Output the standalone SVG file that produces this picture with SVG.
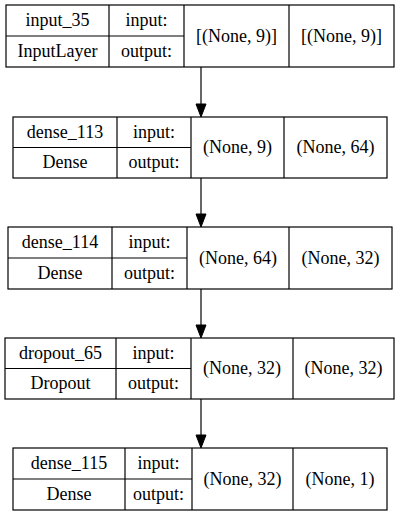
<svg xmlns="http://www.w3.org/2000/svg" width="401" height="516" viewBox="0 0 401 516">
<defs>
<style>
rect.b { fill: #ffffff; stroke: #000000; stroke-width: 1.2; }
line.d { stroke: #000000; stroke-width: 1.2; }
svg g text.t { font-family: 'Liberation Serif', serif !important; font-size: 18px; fill: #000000; text-anchor: middle; }
.edge line { stroke: #000000; stroke-width: 1.2; }
.edge polygon { fill: #000000; stroke: #000000; stroke-width: 1; }
</style>
</defs>
<rect x="0" y="0" width="401" height="516" fill="#ffffff"/>

<g id="connectors" class="edge">
<line x1="201" y1="67" x2="201" y2="104"/>
<polygon points="196,104 206,104 201,117"/>
<line x1="201" y1="178" x2="201" y2="214"/>
<polygon points="196,214 206,214 201,227"/>
<line x1="201" y1="289" x2="201" y2="325"/>
<polygon points="196,325 206,325 201,338"/>
<line x1="201" y1="399" x2="201" y2="435"/>
<polygon points="196,435 206,435 201,448"/>
</g>

<g id="input_35">
<rect class="b" x="6" y="5" width="388" height="62"/>
<line class="d" x1="109" y1="5" x2="109" y2="67"/>
<line class="d" x1="184" y1="5" x2="184" y2="67"/>
<line class="d" x1="289" y1="5" x2="289" y2="67"/>
<line class="d" x1="6" y1="36" x2="184" y2="36"/>
<text class="t" style="font-family:'Liberation Serif',serif !important" x="57.5" y="26">input_35</text>
<text class="t" style="font-family:'Liberation Serif',serif !important" x="57.5" y="57">InputLayer</text>
<text class="t" style="font-family:'Liberation Serif',serif !important" x="146.5" y="26">input:</text>
<text class="t" style="font-family:'Liberation Serif',serif !important" x="146.5" y="57">output:</text>
<text class="t" style="font-family:'Liberation Serif',serif !important" x="236.5" y="42">[(None, 9)]</text>
<text class="t" style="font-family:'Liberation Serif',serif !important" x="341.5" y="42">[(None, 9)]</text>
</g>

<g id="dense_113">
<rect class="b" x="13" y="117" width="374" height="61"/>
<line class="d" x1="117" y1="117" x2="117" y2="178"/>
<line class="d" x1="191" y1="117" x2="191" y2="178"/>
<line class="d" x1="284" y1="117" x2="284" y2="178"/>
<line class="d" x1="13" y1="147.5" x2="191" y2="147.5"/>
<text class="t" style="font-family:'Liberation Serif',serif !important" x="65" y="138">dense_113</text>
<text class="t" style="font-family:'Liberation Serif',serif !important" x="65" y="168">Dense</text>
<text class="t" style="font-family:'Liberation Serif',serif !important" x="154" y="138">input:</text>
<text class="t" style="font-family:'Liberation Serif',serif !important" x="154" y="168">output:</text>
<text class="t" style="font-family:'Liberation Serif',serif !important" x="237.5" y="153">(None, 9)</text>
<text class="t" style="font-family:'Liberation Serif',serif !important" x="335.5" y="153">(None, 64)</text>
</g>

<g id="dense_114">
<rect class="b" x="8" y="227" width="384" height="62"/>
<line class="d" x1="112" y1="227" x2="112" y2="289"/>
<line class="d" x1="187" y1="227" x2="187" y2="289"/>
<line class="d" x1="289" y1="227" x2="289" y2="289"/>
<line class="d" x1="8" y1="258" x2="187" y2="258"/>
<text class="t" style="font-family:'Liberation Serif',serif !important" x="60" y="248">dense_114</text>
<text class="t" style="font-family:'Liberation Serif',serif !important" x="60" y="279">Dense</text>
<text class="t" style="font-family:'Liberation Serif',serif !important" x="149.5" y="248">input:</text>
<text class="t" style="font-family:'Liberation Serif',serif !important" x="149.5" y="279">output:</text>
<text class="t" style="font-family:'Liberation Serif',serif !important" x="238" y="264">(None, 64)</text>
<text class="t" style="font-family:'Liberation Serif',serif !important" x="340.5" y="264">(None, 32)</text>
</g>

<g id="dropout_65">
<rect class="b" x="5" y="338" width="389" height="61"/>
<line class="d" x1="116" y1="338" x2="116" y2="399"/>
<line class="d" x1="191" y1="338" x2="191" y2="399"/>
<line class="d" x1="293" y1="338" x2="293" y2="399"/>
<line class="d" x1="5" y1="368.5" x2="191" y2="368.5"/>
<text class="t" style="font-family:'Liberation Serif',serif !important" x="60.5" y="359">dropout_65</text>
<text class="t" style="font-family:'Liberation Serif',serif !important" x="60.5" y="389">Dropout</text>
<text class="t" style="font-family:'Liberation Serif',serif !important" x="153.5" y="359">input:</text>
<text class="t" style="font-family:'Liberation Serif',serif !important" x="153.5" y="389">output:</text>
<text class="t" style="font-family:'Liberation Serif',serif !important" x="242" y="374">(None, 32)</text>
<text class="t" style="font-family:'Liberation Serif',serif !important" x="343.5" y="374">(None, 32)</text>
</g>

<g id="dense_115">
<rect class="b" x="13" y="448" width="374" height="62"/>
<line class="d" x1="125" y1="448" x2="125" y2="510"/>
<line class="d" x1="192" y1="448" x2="192" y2="510"/>
<line class="d" x1="293" y1="448" x2="293" y2="510"/>
<line class="d" x1="13" y1="479" x2="192" y2="479"/>
<text class="t" style="font-family:'Liberation Serif',serif !important" x="69" y="469">dense_115</text>
<text class="t" style="font-family:'Liberation Serif',serif !important" x="69" y="500">Dense</text>
<text class="t" style="font-family:'Liberation Serif',serif !important" x="158.5" y="469">input:</text>
<text class="t" style="font-family:'Liberation Serif',serif !important" x="158.5" y="500">output:</text>
<text class="t" style="font-family:'Liberation Serif',serif !important" x="242.5" y="485">(None, 32)</text>
<text class="t" style="font-family:'Liberation Serif',serif !important" x="340" y="485">(None, 1)</text>
</g>
</svg>
